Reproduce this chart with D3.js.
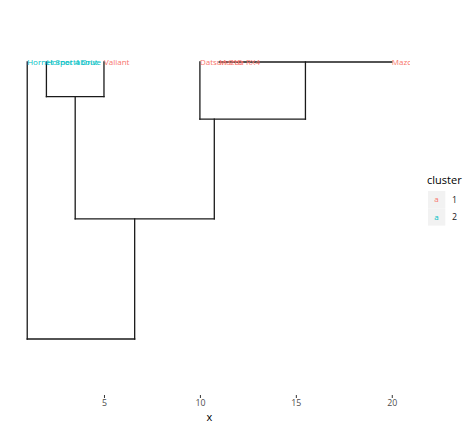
<!DOCTYPE html>
<html>
<head>
<meta charset="utf-8">
<script src="https://cdn.jsdelivr.net/npm/d3@7"></script>
<style>
  body { margin: 0; background: #fff; }
  svg { display: block; font-family: "Open Sans", sans-serif; }
</style>
</head>
<body>
<svg width="474" height="429"></svg>
<script>
      // leaves of the tree
      const leafNames = ["Hornet Sportabout", "Hornet 4 Drive", "Valiant", "Datsun 710", "Mazda RX4", "Mazda RX4 Wag"];
      const leafX = [1, 2, 5, 10, 11, 20];
      const leafCluster = ["2", "2", "1", "1", "1", "1"];

      // dendrogram segments (x, y, xend, yend), y = merge height
      const segX    = [1, 2, 5, 2,   3.5,  10,   15.5, 10,   11, 10.75, 3.5,   6.6,  1];
      const segY    = [0, 0, 0, 1,   1,    0,    0,    1.65, 0,  1.65,  4.53,  4.53, 8];
      const segXend = [1, 2, 5, 5,   3.5,  10,   15.5, 15.5, 20, 10.75, 10.75, 6.6,  6.6];
      const segYend = [8, 1, 1, 1,   4.53, 1.65, 1.65, 1.65, 0,  4.53,  4.53,  8,    8];

      const xTicks = [5, 10, 15, 20];
      const clusters = ["1", "2"];
      const clusterColors = ["#F8766D", "#00BFC4"];

      const svg = d3.select("svg"),
          panel = {left: 9, right: 410, top: 40, bottom: 395};

      let x = d3.scaleLinear()
          .domain([0.05, 20.95])
          .range([panel.left, panel.right]);
      // heights grow downwards, leaves on top
      let y = d3.scaleLinear()
          .domain([0, 8])
          .range([62, 339]);
      let colScale = d3.scaleOrdinal()
          .domain(clusters)
          .range(clusterColors);

      svg.append("defs").append("clipPath")
          .attr("id", "panelClip")
        .append("rect")
          .attr("x", panel.left)
          .attr("y", panel.top)
          .attr("width", panel.right - panel.left)
          .attr("height", panel.bottom - panel.top);

      const g = svg.append("g").attr("clip-path", "url(#panelClip)");

      const segs = segX.map((d, i) => ({x: d, y: segY[i], xend: segXend[i], yend: segYend[i]}));

      g.selectAll("line.seg")
          .data(segs)
          .enter()
          .append("line")
          .attr("class", "seg")
          .attr("x1", d => x(d.x))
          .attr("y1", d => y(d.y))
          .attr("x2", d => x(d.xend))
          .attr("y2", d => y(d.yend))
          .style("stroke", "#1a1a1a")
          .style("stroke-width", 1.3)
          .style("stroke-linecap", "square");

      const leaves = leafNames.map((d, i) => ({name: d, x: leafX[i], cluster: leafCluster[i]}));

      g.selectAll("text.leaf")
          .data(leaves)
          .enter()
          .append("text")
          .attr("class", "leaf")
          .attr("x", d => x(d.x))
          .attr("y", y(0))
          .attr("dy", "0.35em")
          .style("font-size", "8px")
          .style("fill", d => colScale(d.cluster))
          .text(d => d.name);

      // x axis, no domain line
      const axis = svg.append("g")
          .attr("transform", "translate(0," + panel.bottom + ")")
          .call(d3.axisBottom(x).tickValues(xTicks).tickSize(3).tickPadding(2));
      axis.select(".domain").remove();
      axis.selectAll("line").style("stroke", "#333").style("stroke-width", 1);
      axis.selectAll("text")
          .style("font-family", "Open Sans, sans-serif")
          .style("font-size", "8.8px")
          .style("fill", "#4d4d4d");

      svg.append("text")
          .attr("x", (panel.left + panel.right) / 2)
          .attr("y", 421)
          .attr("text-anchor", "middle")
          .style("font-size", "11px")
          .style("fill", "#000")
          .text("x");

      // legend
      const legend = svg.append("g").attr("transform", "translate(427,0)");
      legend.append("text")
          .attr("x", 0)
          .attr("y", 184)
          .style("font-size", "11px")
          .style("fill", "#000")
          .text("cluster");

      const keys = legend.selectAll("g.key")
          .data(clusters)
          .enter()
          .append("g")
          .attr("class", "key")
          .attr("transform", (d, i) => "translate(1," + (191 + i * 17.3) + ")");
      keys.append("rect")
          .attr("width", 17.3)
          .attr("height", 17.3)
          .style("fill", "#f2f2f2");
      keys.append("text")
          .attr("x", 8.6)
          .attr("y", 8.6)
          .attr("dy", "0.35em")
          .attr("text-anchor", "middle")
          .style("font-size", "8px")
          .style("fill", d => colScale(d))
          .text("a");
      keys.append("text")
          .attr("x", 24)
          .attr("y", 8.6)
          .attr("dy", "0.35em")
          .style("font-size", "8.8px")
          .style("fill", "#1a1a1a")
          .text(d => d);
</script>
</body>
</html>
